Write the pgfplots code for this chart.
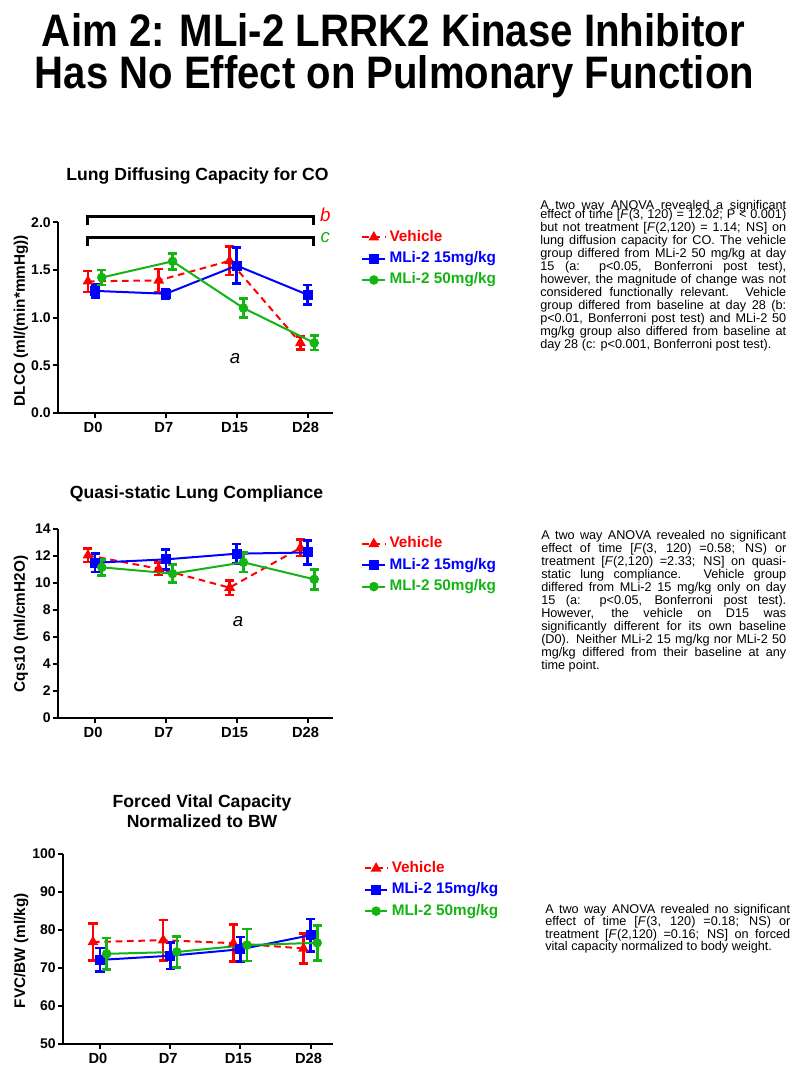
\documentclass[border=0pt]{standalone}
\usepackage{fontspec}
\setmainfont{Liberation Sans}
\usepackage{graphicx}
\usepackage{pgfplots}
\pgfplotsset{compat=1.18}
\usepackage{pgfplotstable}

\definecolor{vred}{RGB}{255,0,0}
\definecolor{vblue}{RGB}{0,0,255}
\definecolor{vgreen}{RGB}{20,180,20}

% mean and SEM
\pgfplotstableread{
x veh vehe m15 m15e m50 m50e
0 1.38  0.11 1.28  0.07 1.42  0.08
1 1.39  0.12 1.25  0.05 1.59  0.085
2 1.595 0.15 1.545 0.19 1.10  0.10
3 0.735 0.07 1.24  0.10 0.735 0.075
}\dlco
\pgfplotstableread{
x veh vehe m15 m15e m50 m50e
0 12.05 0.50 11.50 0.70 11.16 0.60
1 11.05 0.45 11.75 0.74 10.69 0.67
2  9.65 0.55 12.17 0.73 11.53 0.72
3 12.60 0.60 12.26 0.90 10.27 0.74
}\cqs
\pgfplotstableread{
x veh vehe m15 m15e m50 m50e
0 76.7 4.9 72.0 3.1 73.6 4.2
1 77.2 5.3 73.1 3.5 74.1 4.1
2 76.4 4.9 74.8 3.2 75.9 4.2
3 75.0 3.9 78.5 4.3 76.5 4.6
}\fvc

\newcommand{\parfont}{\fontsize{9.5}{9.75}\selectfont}
\newcommand{\jl}[2]{\hbox to #1{#2}}

\pgfplotsset{
  lungpanel/.style={
    scale only axis, clip=false,
    axis x line=bottom, axis y line=left,
    axis line style={line width=1.5pt,-},
    xtick={0,1,2,3}, xticklabels={D0,D7,D15,D28},
    tick align=outside, major tick length=3.75pt,
    tick style={black, line width=1.5pt},
    xticklabel style={font=\bfseries\fontsize{11}{12}\selectfont, xshift=-1.5pt},
    yticklabel style={font=\bfseries\fontsize{10.5}{12}\selectfont, xshift=1.8pt},
    /pgf/number format/assume math mode=true,
    ylabel style={font=\bfseries\fontsize{11.5}{13}\selectfont, anchor=center},
    title style={font=\bfseries\fontsize{13.2}{15}\selectfont},
    legend style={draw=none, fill=none, anchor=north west,
      font=\bfseries\fontsize{11.5}{13}\selectfont,
      row sep=0pt, nodes={inner sep=2.5pt, text height=8.5pt, text depth=2.5pt}},
    legend cell align=left,
  },
  veh/.style={vred, line width=1.5pt, dash pattern=on 5pt off 3.5pt,
    mark=triangle*, mark size=3.2pt, mark options={solid},
    error bars/y dir=both, error bars/y explicit,
    error bars/error bar style={line width=2pt, solid},
    error bars/error mark options={rotate=90, mark size=3.4pt, line width=2pt, solid}},
  m15/.style={vblue, line width=1.5pt, solid,
    mark=square*, mark size=3pt,
    error bars/y dir=both, error bars/y explicit,
    error bars/error bar style={line width=2pt},
    error bars/error mark options={rotate=90, mark size=3.4pt, line width=2pt}},
  m50/.style={vgreen, line width=1.5pt, solid,
    mark=*, mark size=2.8pt,
    error bars/y dir=both, error bars/y explicit,
    error bars/error bar style={line width=2pt},
    error bars/error mark options={rotate=90, mark size=3.4pt, line width=2pt}},
}

\begin{document}
\begin{tikzpicture}
\path[use as bounding box] (0,0) rectangle (600pt,-807.75pt);

% ---------- panel 1: DLCO ----------
\begin{axis}[lungpanel,
  at={({58*0.75pt},{-413*0.75pt})}, anchor=south west,
  width=206.25pt, height=143.1pt,
  xmin=-0.523, xmax=3.36, ymin=0, ymax=2,
  ytick={0,0.5,1,1.5,2},
  yticklabel style={/pgf/number format/.cd, fixed, fixed zerofill, precision=1},
  ylabel={DLCO (ml/(min*mmHg))},
  ylabel style={at={(axis description cs:-0.135,0.484)}},
  title={Lung Diffusing Capacity for CO},
  title style={at={(axis description cs:0.507,1.178)}, anchor=base},
  legend style={at={(1.088,0.992)}},
]
\addplot[veh] table[x expr=\thisrow{x}-0.1, y=veh, y error=vehe]{\dlco};
\addlegendentry{\textcolor{vred}{Vehicle}}
\addplot[m15] table[x=x, y=m15, y error=m15e]{\dlco};
\addlegendentry{\textcolor{vblue}{MLi-2 15mg/kg}}
\addplot[m50] table[x expr=\thisrow{x}+0.095, y=m50, y error=m50e]{\dlco};
\addlegendentry{\textcolor{vgreen}{MLi-2 50mg/kg}}
\draw[line width=2.25pt] (axis cs:-0.1,1.97) |- (axis cs:3.08,2.058) -- (axis cs:3.08,1.97);
\draw[line width=2.25pt] (axis cs:-0.1,1.75) |- (axis cs:3.08,1.84) -- (axis cs:3.08,1.75);
\node[vred, font=\itshape\fontsize{14}{14}\selectfont] at (axis cs:3.25,2.075) {b};
\node[vgreen, font=\itshape\fontsize{14}{14}\selectfont] at (axis cs:3.25,1.834) {c};
\node[font=\itshape\fontsize{14}{14}\selectfont] at (axis cs:1.977,0.571) {a};
\end{axis}

% ---------- panel 2: Cqs10 ----------
\begin{axis}[lungpanel,
  at={({58*0.75pt},{-717.7*0.75pt})}, anchor=south west,
  width=206.25pt, height=141.5pt,
  xmin=-0.523, xmax=3.36, ymin=0, ymax=14,
  ytick={0,2,4,6,8,10,12,14},
  ylabel={Cqs10 (ml/cmH2O)},
  ylabel style={at={(axis description cs:-0.135,0.497)}},
  title={Quasi-static Lung Compliance},
  title style={at={(axis description cs:0.504,1.118)}, anchor=base},
  legend style={at={(1.088,0.993)}},
]
\addplot[veh] table[x expr=\thisrow{x}-0.1, y=veh, y error=vehe]{\cqs};
\addlegendentry{\textcolor{vred}{Vehicle}}
\addplot[m15] table[x=x, y=m15, y error=m15e]{\cqs};
\addlegendentry{\textcolor{vblue}{MLi-2 15mg/kg}}
\addplot[m50] table[x expr=\thisrow{x}+0.095, y=m50, y error=m50e]{\cqs};
\addlegendentry{\textcolor{vgreen}{MLI-2 50mg/kg}}
\node[font=\itshape\fontsize{14}{14}\selectfont] at (axis cs:2.02,7.11) {a};
\end{axis}

% ---------- panel 3: FVC/BW ----------
\begin{axis}[lungpanel,
  at={({63*0.75pt},{-1043.5*0.75pt})}, anchor=south west,
  width=202.5pt, height=142.5pt,
  xmin=-0.527, xmax=3.32, ymin=50, ymax=100,
  ytick={50,60,70,80,90,100},
  ylabel={FVC/BW (ml/kg)},
  ylabel style={at={(axis description cs:-0.155,0.488)}},
  title={Forced Vital Capacity\\Normalized to BW},
  title style={at={(axis description cs:0.515,1.293)}, anchor=north, align=center},
  legend style={at={(1.098,0.993)}},
]
\addplot[veh] table[x expr=\thisrow{x}-0.1, y=veh, y error=vehe]{\fvc};
\addlegendentry{\textcolor{vred}{Vehicle}}
\addplot[m15] table[x=x, y=m15, y error=m15e]{\fvc};
\addlegendentry{\textcolor{vblue}{MLi-2 15mg/kg}}
\addplot[m50] table[x expr=\thisrow{x}+0.095, y=m50, y error=m50e]{\fvc};
\addlegendentry{\textcolor{vgreen}{MLI-2 50mg/kg}}
\end{axis}

% ---------- headline and notes ----------
\begin{scope}[x=0.75pt, y=-0.75pt]
\node[anchor=base, inner sep=0] at (393.5,47)
  {\resizebox{527.25pt}{24.75pt}{\bfseries Aim 2: MLi-2 LRRK2 Kinase Inhibitor}};
\node[anchor=base, inner sep=0] at (394.5,89)
  {\resizebox{539.25pt}{24.75pt}{\bfseries Has No Effect on Pulmonary Function}};

\node[anchor=base west, inner sep=0, font=\parfont] at (540,209.5)
  {\jl{184.5pt}{A two way ANOVA revealed a significant}};
\node[anchor=base west, inner sep=0, font=\parfont] at (540,218)
  {\vtop{\parfont
  \jl{184.5pt}{effect of time [\textit{F}(3, 120) = 12.02; P < 0.001)}
  \jl{184.5pt}{but not treatment [\textit{F}(2,120) = 1.14; NS] on}
  \jl{184.5pt}{lung diffusion capacity for CO. The vehicle}
  \jl{184.5pt}{group differed from MLi-2 50 mg/kg at day}
  \jl{184.5pt}{15 (a: p<0.05, Bonferroni post test),}
  \jl{184.5pt}{however, the magnitude of change was not}
  \jl{184.5pt}{considered functionally relevant. Vehicle}
  \jl{184.5pt}{group differed from baseline at day 28 (b:}
  \jl{184.5pt}{p<0.01, Bonferroni post test) and MLi-2 50}
  \jl{184.5pt}{mg/kg group also differed from baseline at}
  \hbox{day 28 (c: p<0.001, Bonferroni post test).}}};

\node[anchor=base west, inner sep=0, font=\parfont] at (541,539.3)
  {\vtop{\parfont
  \jl{183.75pt}{A two way ANOVA revealed no significant}
  \jl{183.75pt}{effect of time [\textit{F}(3, 120) =0.58; NS) or}
  \jl{183.75pt}{treatment [\textit{F}(2,120) =2.33; NS] on quasi-}
  \jl{183.75pt}{static lung compliance. Vehicle group}
  \jl{183.75pt}{differed from MLi-2 15 mg/kg only on day}
  \jl{183.75pt}{15 (a: p<0.05, Bonferroni post test).}
  \jl{183.75pt}{However, the vehicle on D15 was}
  \jl{183.75pt}{significantly different for its own baseline}
  \jl{183.75pt}{(D0). Neither MLi-2 15 mg/kg nor MLi-2 50}
  \jl{183.75pt}{mg/kg differed from their baseline at any}
  \hbox{time point.}}};

\node[anchor=base west, inner sep=0, font=\parfont] at (545,913.3)
  {\vtop{\fontsize{9.5}{9.3}\selectfont
  \jl{183.75pt}{A two way ANOVA revealed no significant}
  \jl{183.75pt}{effect of time [\textit{F}(3, 120) =0.18; NS) or}
  \jl{183.75pt}{treatment [\textit{F}(2,120) =0.16; NS] on forced}
  \hbox{vital capacity normalized to body weight.}}};
\end{scope}
\end{tikzpicture}
\end{document}
